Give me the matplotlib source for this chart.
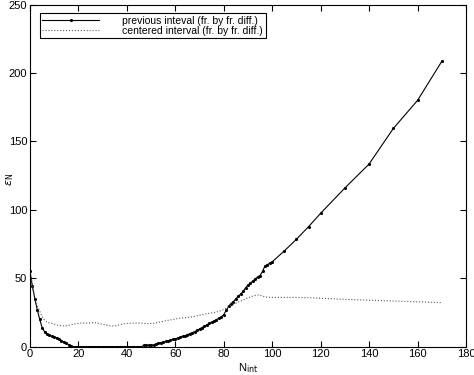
import matplotlib
matplotlib.use("Agg")
import matplotlib.pyplot as plt

plt.rcParams['font.family'] = ['Liberation Sans', 'DejaVu Sans']

n_int = list(range(0, 101)) + [105, 110, 115, 120, 130, 140, 150, 160, 170]

prev_interval = [55, 44, 35, 27, 20, 14, 11, 9.5, 8.5, 7.5,
                 7, 6.5, 5.5, 4.5, 3.5, 2.5, 1.5, 0.5, 0, 0,
                 0, 0, 0, 0, 0, 0, 0, 0, 0, 0,
                 0, 0, 0, 0, 0, 0, 0, 0, 0, 0,
                 0, 0, 0, 0, 0, 0, 0, 1, 1, 1,
                 1, 1.2, 2, 2.5, 3, 3.3, 3.8, 4.2, 4.8, 5.3,
                 5.8, 6.3, 6.8, 7.5, 8, 8.8, 9.5, 10.3, 11, 12,
                 13, 14, 15, 16, 17, 17.8, 18.8, 19.8, 20.8, 21.8,
                 23.5, 26.5, 29.5, 31.5, 33, 35, 37, 38.5, 40.5, 43,
                 45, 46.5, 48, 49.5, 51, 52, 55, 59, 60, 61,
                 62, 70, 78.5, 87.7, 97.5, 116, 133.5, 159.5, 180, 208.5]

centered_interval = [55, 45, 36, 30, 26, 22, 19.5, 18, 17.5, 17,
                     16.5, 16, 15.5, 15.3, 15.2, 15.3, 15.6, 16, 16.5, 16.8,
                     17, 17.2, 17.3, 17.3, 17.2, 17.4, 17.6, 17.5, 17.2, 16.8,
                     16.4, 16, 15.6, 15.3, 15.1, 15.2, 15.5, 16, 16.4, 16.8,
                     17, 17.1, 17.2, 17.3, 17.3, 17.3, 17.2, 17, 16.9, 16.9,
                     17, 17.2, 17.5, 17.8, 18.1, 18.5, 18.9, 19.3, 19.6, 19.9,
                     20.2, 20.5, 20.8, 21, 21.2, 21.4, 21.6, 21.9, 22.2, 22.6,
                     23, 23.4, 23.8, 24.1, 24.4, 24.7, 25, 25.4, 25.8, 26.4,
                     27.2, 28.2, 29.2, 30.2, 31, 31.8, 32.6, 33.4, 34.2, 35,
                     35.7, 36.3, 37, 37.5, 37.8, 37.6, 37, 36.5, 36.2, 36,
                     36, 36, 36, 35.8, 35.4, 34.6, 34, 33.4, 32.8, 32.2]

x_ticks = list(range(0, 181, 20))
y_ticks = list(range(0, 251, 50))

fig = plt.figure(figsize=(4.74, 3.75), dpi=100)
ax = fig.add_axes([0.0633, 0.0755, 0.9197, 0.912])

ax.plot(n_int, prev_interval, '-', color='black', lw=0.8, marker='.', markersize=2.5,
        label='previous inteval (fr. by fr. diff.)')
ax.plot(n_int, centered_interval, ':', color='0.35', lw=0.8,
        label='centered interval (fr. by fr. diff.)')

ax.set_xlim(0, 180)
ax.set_ylim(0, 250)
ax.set_xticks(x_ticks)
ax.set_yticks(y_ticks)
ax.tick_params(direction='in', top=True, right=True, length=4, width=0.8,
               labelsize=8, pad=2)
for s in ax.spines.values():
    s.set_linewidth(0.8)

ax.set_xlabel(r'N$_{\mathrm{int}}$', fontsize=8, labelpad=1)
ax.set_ylabel(r'$\varepsilon_{\mathrm{N}}$', fontsize=8)
ax.yaxis.set_label_coords(-0.033, 0.49)

leg = ax.legend(loc='upper left', bbox_to_anchor=(0.022, 0.975), fontsize=7.5,
                frameon=True, fancybox=False, edgecolor='black', framealpha=1,
                handlelength=5.5, handletextpad=2.2, labelspacing=0.0,
                borderpad=0.25, borderaxespad=0)
leg.get_frame().set_linewidth(0.8)

fig.savefig('out.png', dpi=100)
